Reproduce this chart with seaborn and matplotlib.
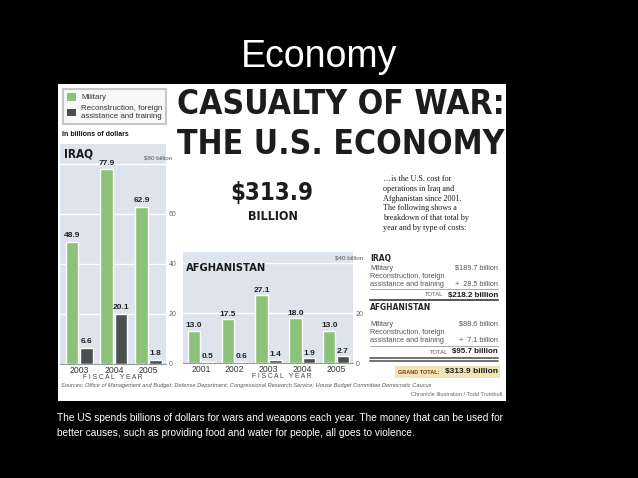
import matplotlib
matplotlib.use("Agg")
import matplotlib.pyplot as plt
import seaborn as sns
import pandas as pd
from matplotlib.patches import Rectangle
from matplotlib import font_manager

# ---------------- data ----------------
iraq_years = ["2003", "2004", "2005"]
iraq_military = [48.9, 77.9, 62.9]
iraq_reconstruction = [6.6, 20.1, 1.8]

afg_years = ["2001", "2002", "2003", "2004", "2005"]
afg_military = [13.0, 17.5, 27.1, 18.0, 13.0]
afg_reconstruction = [0.5, 0.6, 1.4, 1.9, 2.7]

cost_types = ["Military", "Reconstruction, foreign\nassistance and training"]
iraq_ticks = [0, 20, 40, 60]
afg_ticks = [0, 20]

# ---------------- style ----------------
sns.set_theme(style="white")
plt.rcParams["font.family"] = ["Liberation Sans", "DejaVu Sans"]

fonts = font_manager.fontManager.ttflist
names = {f.name for f in fonts}
if "Liberation Sans Narrow" in names:
    NARROW = dict(family="Liberation Sans Narrow")
elif any(f.name == "DejaVu Sans" and f.stretch == "condensed" for f in fonts):
    NARROW = dict(family="DejaVu Sans", fontstretch="condensed")
else:
    NARROW = dict(family="Liberation Sans")

GREEN = "#8cc17a"
DARK = "#4b4f4f"
PANEL = "#dde4ee"
W, H = 638, 478

fig = plt.figure(figsize=(W / 100, H / 100), dpi=100, facecolor="black")


def fx(x):
    return x / W


def fy(y):
    return 1 - y / H


def ftext(x, y, s, **kw):
    return fig.text(fx(x), fy(y), s, **kw)


# slide title
ftext(319, 57, "Economy", color="white", fontsize=27, ha="center", va="center",
      family=["Liberation Sans", "DejaVu Sans"])

# white infographic background
fig.patches.append(Rectangle((fx(58), fy(401)), fx(506) - fx(58), fy(84) - fy(401),
                             transform=fig.transFigure, facecolor="white",
                             edgecolor="none", zorder=-5))


def make_df(years, mil, rec):
    return pd.DataFrame({
        "year": years * 2,
        "value": mil + rec,
        "type": [cost_types[0]] * len(years) + [cost_types[1]] * len(years),
    })


def draw_panel(ax, df, ticks, ymax, xlim, top_label, fy_pos):
    ax.set_facecolor(PANEL)
    sns.barplot(data=df, x="year", y="value", hue="type",
                palette=[GREEN, DARK], width=0.82, gap=0.1, ax=ax,
                legend=False, saturation=1)
    ax.set_ylim(0, ymax)
    ax.set_xlim(*xlim)
    ax.set_xlabel("")
    ax.set_ylabel("")
    top = ticks[-1] + (ticks[1] - ticks[0])
    for g in ticks[1:] + [top]:
        ax.axhline(g, color="white", lw=1.0, zorder=0.5)
    ax.axhline(0, color="#9a9a9a", lw=0.8, zorder=3, clip_on=False)
    ax.yaxis.tick_right()
    ax.set_yticks(ticks)
    ax.set_yticklabels([str(t) for t in ticks], fontsize=5, color="#666666")
    ax.tick_params(axis="y", length=0, pad=2)
    ax.tick_params(axis="x", length=0, pad=1.5, labelsize=6.2, labelcolor="#333333")
    for s in ax.spines.values():
        s.set_visible(False)
    ax.text(1.06, top + 1.2, top_label, transform=ax.get_yaxis_transform(),
            ha="right", va="bottom", fontsize=4.5, color="#555555")
    for cont in ax.containers:
        for bar in cont:
            h = bar.get_height()
            ax.text(bar.get_x() + bar.get_width() / 2, h + ymax * 0.012,
                    f"{h:.1f}", ha="center", va="bottom", fontsize=6,
                    fontweight="bold", color="#222222")
    ax.text(fy_pos[0], fy_pos[1], "F I S C A L   Y E A R", transform=ax.transAxes,
            ha="center", va="top", fontsize=4.8, color="#444444")


# Iraq panel
ax1 = fig.add_axes([fx(60), fy(364), fx(166) - fx(60), fy(144) - fy(364)])
draw_panel(ax1, make_df(iraq_years, iraq_military, iraq_reconstruction),
           iraq_ticks, 88, (-0.55, 2.5), "$80 billion", (0.5, -0.045))
ax1.text(0.04, 0.985, "IRAQ", transform=ax1.transAxes, ha="left", va="top",
         fontsize=8.5, fontweight="bold", color="#1a1a1a", **NARROW)

# Afghanistan panel
ax2 = fig.add_axes([fx(183), fy(363), fx(353) - fx(183), fy(252) - fy(363)])
draw_panel(ax2, make_df(afg_years, afg_military, afg_reconstruction),
           afg_ticks, 44.4, (-0.53, 4.5), "$40 billion", (0.58, -0.09))
ax2.text(0.02, 0.9, "AFGHANISTAN", transform=ax2.transAxes, ha="left", va="top",
         fontsize=8, fontweight="bold", color="#1a1a1a", **NARROW)

# legend box
handles = [Rectangle((0, 0), 1, 1, facecolor=GREEN, edgecolor="none"),
           Rectangle((0, 0), 1, 1, facecolor=DARK, edgecolor="none")]
leg = fig.legend(handles, cost_types, loc="upper left",
                 bbox_to_anchor=(fx(59), fy(85)), bbox_transform=fig.transFigure,
                 fontsize=5.7, frameon=True, fancybox=False, handlelength=1.1,
                 handleheight=1.1, handletextpad=0.7, labelspacing=0.5,
                 borderpad=0.5, edgecolor="#bbbbbb", facecolor="#f7f7f7",
                 labelcolor="#333333")
leg.get_frame().set_linewidth(1.5)

ftext(62, 134, "In billions of dollars", fontsize=5, fontweight="bold",
      color="#111111", va="center", ha="left")

# headline
renderer = fig.canvas.get_renderer()


def fit_text(x0, x1, ycenter, s, size, **kw):
    t = ftext(x0, ycenter, s, fontsize=size, ha="left", va="center", **kw)
    w = t.get_window_extent(renderer).width
    t.set_fontsize(size * (x1 - x0) / w)
    return t


fit_text(177, 505, 105, "CASUALTY OF WAR:", 28, fontweight="heavy",
         color="#1c1c1c", **NARROW)
fit_text(177, 505, 144, "THE U.S. ECONOMY", 28, fontweight="heavy",
         color="#1c1c1c", **NARROW)
fit_text(230, 313, 193, "$313.9", 24, fontweight="heavy", color="#1c1c1c", **NARROW)
fit_text(248, 298, 217, "BILLION", 11, fontweight="bold", color="#1c1c1c", **NARROW)

intro = ("\u2026is the U.S. cost for\noperations in Iraq and\nAfghanistan since 2001.\n"
         "The following shows a\nbreakdown of that total by\nyear and by type of costs:")
ftext(383, 175, intro, fontsize=5.9, family=["Liberation Serif", "DejaVu Serif"],
      color="#1a1a1a", va="top", ha="left", linespacing=1.3)

# breakdown table
TL, TR = 370, 498
tfs = 5.2
gray = "#555555"
ftext(TL, 259, "IRAQ", fontsize=6, fontweight="bold", va="center", **NARROW)
ftext(TL, 268, "Military", fontsize=tfs, color=gray, va="center")
ftext(TR, 268, "$189.7 billion", fontsize=tfs, color=gray, va="center", ha="right")
ftext(TL, 277, "Reconstruction, foreign", fontsize=tfs, color=gray, va="center")
ftext(TL, 284, "assistance and training", fontsize=tfs, color=gray, va="center")
ftext(TR, 284, "+  28.5 billion", fontsize=tfs, color=gray, va="center", ha="right")
fig.add_artist(plt.Line2D([fx(TL), fx(TR)], [fy(289), fy(289)], color="#999999", lw=0.6))
ftext(443, 295, "TOTAL", fontsize=4.2, color=gray, va="center", ha="right")
ftext(TR, 295, "$218.2 billion", fontsize=5.8, fontweight="bold", va="center", ha="right",
      color="#1a1a1a")
fig.add_artist(plt.Line2D([fx(TL), fx(TR)], [fy(300), fy(300)], color="#555555", lw=1.4))

ftext(TL, 307, "AFGHANISTAN", fontsize=6, fontweight="bold", va="center", **NARROW)
ftext(TL, 324, "Military", fontsize=tfs, color=gray, va="center")
ftext(TR, 324, "$88.6 billion", fontsize=tfs, color=gray, va="center", ha="right")
ftext(TL, 333, "Reconstruction, foreign", fontsize=tfs, color=gray, va="center")
ftext(TL, 341, "assistance and training", fontsize=tfs, color=gray, va="center")
ftext(TR, 341, "+  7.1 billion", fontsize=tfs, color=gray, va="center", ha="right")
fig.add_artist(plt.Line2D([fx(TL), fx(TR)], [fy(346), fy(346)], color="#999999", lw=0.6))
ftext(448, 352, "TOTAL", fontsize=4.2, color=gray, va="center", ha="right")
ftext(TR, 352, "$95.7 billion", fontsize=5.8, fontweight="bold", va="center", ha="right",
      color="#1a1a1a")
fig.add_artist(plt.Line2D([fx(TL), fx(TR)], [fy(358), fy(358)], color="#666666", lw=1.3))
fig.add_artist(plt.Line2D([fx(TL), fx(TR)], [fy(361), fy(361)], color="#666666", lw=1.3))

fig.patches.append(Rectangle((fx(395), fy(378)), fx(TR + 2) - fx(395), fy(366) - fy(378),
                             transform=fig.transFigure, facecolor="#f2e4b5",
                             edgecolor="none", zorder=-1))
ftext(398, 372, "GRAND TOTAL:", fontsize=4.0, fontweight="bold", color="#7a3a1a",
      va="center", ha="left")
ftext(TR, 372, "$313.9 billion", fontsize=6, fontweight="bold", color="#1a1a1a",
      va="center", ha="right")

# sources / credit
ftext(61, 386, "Sources: Office of Management and Budget; Defense Department; "
      "Congressional Research Service; House Budget Committee Democratic Caucus",
      fontsize=4.1, style="italic", color="#555555", va="center", ha="left")
ftext(502, 395, "Chronicle Illustration / Todd Trumbull", fontsize=4.1,
      color="#666666", va="center", ha="right")

# caption
ftext(57, 418, "The US spends billions of dollars for wars and weapons each year. "
      "The money that can be used for", fontsize=7.3, color="white", va="center")
ftext(57, 433, "better causes, such as providing food and water for people, "
      "all goes to violence.", fontsize=7.3, color="white", va="center")

fig.savefig("out.png", dpi=100, facecolor="black")
